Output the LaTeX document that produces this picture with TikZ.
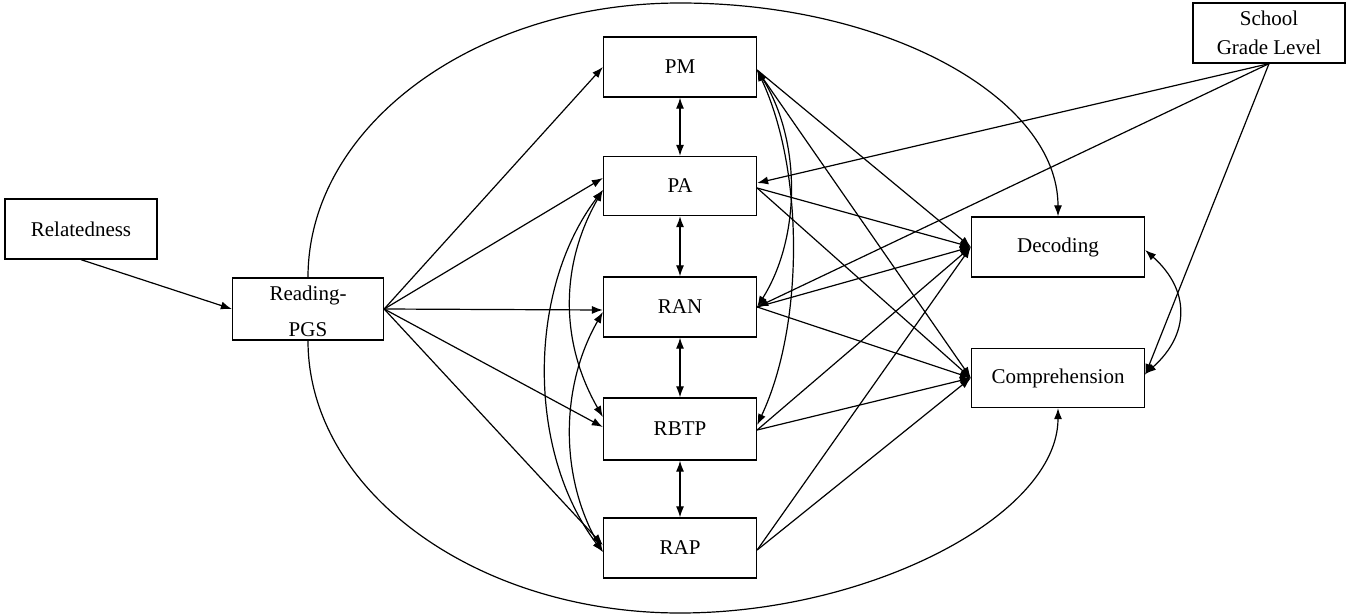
\documentclass[tikz,border=0pt]{standalone}
\usepackage{fontspec}
\setmainfont{Liberation Serif}
\usetikzlibrary{arrows.meta}
\begin{document}
\begin{tikzpicture}[x=1pt,y=-1pt,
  box/.style={draw,line width=1.3pt,inner sep=0pt,align=center,
    font=\fontsize{21}{29}\selectfont},
  txt/.style={inner sep=0pt,align=center,font=\fontsize{21}{36}\selectfont},
  ln/.style={line width=1.2pt},
  arr/.style={ln,-{Latex[length=11pt,width=8pt]}},
  dbl/.style={ln,{Latex[length=11pt,width=8pt]}-{Latex[length=11pt,width=8pt]}}]
\useasboundingbox (0,0) rectangle (1350,616);
% nodes
\node[box,minimum width=152pt,minimum height=60pt] (rel) at (81,229) {Relatedness};
\node[box,minimum width=151pt,minimum height=62pt] (rpgs) at (308,309) {};
\node[txt] (rpgst) at (308,311) {Reading-\\PGS};
\node[box,minimum width=153pt,minimum height=60pt] (pm) at (680,67) {PM};
\node[box,minimum width=153pt,minimum height=59pt] (pa) at (680,186) {PA};
\node[box,minimum width=153pt,minimum height=60pt] (ran) at (680,307) {RAN};
\node[box,minimum width=153pt,minimum height=62pt] (rbtp) at (680,429) {RBTP};
\node[box,minimum width=153pt,minimum height=60pt] (rap) at (680,548) {RAP};
\node[box,minimum width=173pt,minimum height=60pt] (dec) at (1058,247) {Decoding};
\node[box,minimum width=173pt,minimum height=59pt] (comp) at (1058,378) {Comprehension};
\node[box,minimum width=152pt,minimum height=60pt] (sgl) at (1269,33) {School\\Grade Level};
% big arcs
\draw[arr] (rpgs.north) .. controls (308,126) and (475,3) .. (680,3)
  .. controls (889,3) and (1058,99) .. (dec.north);
\draw[arr] (rpgs.south) .. controls (308,490) and (475,613) .. (680,613)
  .. controls (870,613) and (1058,515) .. (comp.south);
% relatedness
\draw[arr] (rel.south) -- (rpgs.west);
% reading-pgs to center
\draw[arr] (rpgs.east) -- (pm.west);
\draw[arr] (rpgs.east) -- ([yshift=8pt]pa.west);
\draw[arr] (rpgs.east) -- ([yshift=-3pt]ran.west);
\draw[arr] (rpgs.east) -- ([yshift=2pt]rbtp.west);
\draw[arr] (rpgs.east) -- ([yshift=3pt]rap.west);
% vertical double arrows
\draw[dbl] (pm.south) -- (pa.north);
\draw[dbl] (pa.south) -- (ran.north);
\draw[dbl] (ran.south) -- (rbtp.north);
\draw[dbl] (rbtp.south) -- (rap.north);
% left curves
\draw[dbl] ([yshift=-4pt]pa.west) .. controls +(-76,100) and +(-76,-100) .. ([yshift=-4pt]rap.west);
\draw[dbl] ([yshift=-4pt]pa.west) .. controls +(-43,75) and +(-43,-75) .. ([yshift=12pt]rbtp.west);
\draw[dbl] ([yshift=-5pt]ran.west) .. controls +(-43,75) and +(-43,-75) .. ([yshift=-4pt]rap.west);
% right curves
\draw[dbl] ([yshift=-3pt]pm.east) .. controls +(44,70) and +(44,-70) .. (ran.east);
\draw[dbl] ([yshift=-3pt]pm.east) .. controls +(47,100) and +(47,-100) .. ([yshift=4pt]rbtp.east);
% to decoding / comprehension
\foreach \s/\d in {pm/-3,pa/-2,ran/0,rbtp/-1,rap/-2}{
  \draw[arr] ([yshift=\d pt]\s.east) -- (dec.west);
  \draw[arr] ([yshift=\d pt]\s.east) -- (comp.west);
}
% school grade level
\draw[arr] (sgl.south) -- ([yshift=3pt]pa.east);
\draw[arr] (sgl.south) -- (ran.east);
\draw[arr] (sgl.south) -- ([yshift=3pt]comp.east);
% decoding - comprehension
\draw[dbl] ([yshift=-3pt]dec.east) .. controls +(45,40) and +(45,-40) .. ([yshift=4pt]comp.east);
\end{tikzpicture}
\end{document}
